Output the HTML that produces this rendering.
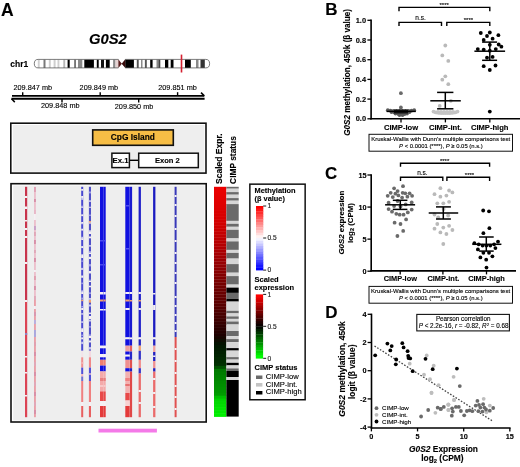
<!DOCTYPE html>
<html><head><meta charset="utf-8"><title>G0S2 figure</title>
<style>
html,body{margin:0;padding:0;background:#fff;}
svg{display:block;}
text{font-family:'Liberation Sans', Arial, sans-serif;stroke:currentColor;stroke-width:0.12px;}
svg{color:#000;}
</style></head>
<body>
<svg width="520" height="467" viewBox="0 0 520 467">
<rect width="520" height="467" fill="#fff"/>
<text x="1.00" y="15.60" font-size="17.5" font-weight="bold" font-style="normal" text-anchor="start" fill="#000" >A</text>
<text x="89.00" y="44.10" font-size="14.8" font-weight="bold" font-style="italic" text-anchor="start" fill="#000" >G0S2</text>
<text x="10.30" y="66.80" font-size="8.5" font-weight="bold" font-style="normal" text-anchor="start" fill="#000" >chr1</text>
<defs><clipPath id="chrclip"><rect x="34.3" y="59.4" width="175.3" height="8.5" rx="3.8"/></clipPath></defs>
<g clip-path="url(#chrclip)">
<rect x="34.30" y="59.40" width="175.30" height="8.50" fill="#ffffff" stroke="none" stroke-width="0" />
<rect x="37.80" y="59.40" width="1.90" height="8.50" fill="#d0d0d0" stroke="none" stroke-width="0" />
<rect x="43.50" y="59.40" width="2.00" height="8.50" fill="#7a7a7a" stroke="none" stroke-width="0" />
<rect x="48.80" y="59.40" width="2.00" height="8.50" fill="#cfcfcf" stroke="none" stroke-width="0" />
<rect x="53.60" y="59.40" width="2.00" height="8.50" fill="#cfcfcf" stroke="none" stroke-width="0" />
<rect x="57.50" y="59.40" width="1.90" height="8.50" fill="#cfcfcf" stroke="none" stroke-width="0" />
<rect x="63.30" y="59.40" width="1.90" height="8.50" fill="#b8b8b8" stroke="none" stroke-width="0" />
<rect x="67.60" y="59.40" width="2.10" height="8.50" fill="#000" stroke="none" stroke-width="0" />
<rect x="74.30" y="59.40" width="1.50" height="8.50" fill="#555" stroke="none" stroke-width="0" />
<rect x="78.00" y="59.40" width="4.30" height="8.50" fill="#8a8a8a" stroke="none" stroke-width="0" />
<rect x="84.30" y="59.40" width="9.60" height="8.50" fill="#000" stroke="none" stroke-width="0" />
<rect x="96.80" y="59.40" width="1.90" height="8.50" fill="#000" stroke="none" stroke-width="0" />
<rect x="101.00" y="59.40" width="3.00" height="8.50" fill="#111" stroke="none" stroke-width="0" />
<rect x="105.90" y="59.40" width="3.80" height="8.50" fill="#000" stroke="none" stroke-width="0" />
<rect x="113.10" y="59.40" width="2.40" height="8.50" fill="#8a8a8a" stroke="none" stroke-width="0" />
<rect x="115.50" y="59.40" width="2.90" height="8.50" fill="#e6d4d4" stroke="none" stroke-width="0" />
<rect x="125.20" y="59.40" width="8.70" height="8.50" fill="#000" stroke="none" stroke-width="0" />
<rect x="136.80" y="59.40" width="1.90" height="8.50" fill="#555" stroke="none" stroke-width="0" />
<rect x="141.00" y="59.40" width="1.50" height="8.50" fill="#8a8a8a" stroke="none" stroke-width="0" />
<rect x="144.90" y="59.40" width="1.90" height="8.50" fill="#555" stroke="none" stroke-width="0" />
<rect x="150.20" y="59.40" width="2.40" height="8.50" fill="#000" stroke="none" stroke-width="0" />
<rect x="156.50" y="59.40" width="1.90" height="8.50" fill="#8a8a8a" stroke="none" stroke-width="0" />
<rect x="158.40" y="59.40" width="1.90" height="8.50" fill="#444" stroke="none" stroke-width="0" />
<rect x="165.00" y="59.40" width="3.30" height="8.50" fill="#000" stroke="none" stroke-width="0" />
<rect x="170.70" y="59.40" width="2.80" height="8.50" fill="#000" stroke="none" stroke-width="0" />
<rect x="185.00" y="59.40" width="5.80" height="8.50" fill="#000" stroke="none" stroke-width="0" />
<rect x="196.00" y="59.40" width="2.50" height="8.50" fill="#8a8a8a" stroke="none" stroke-width="0" />
<rect x="200.50" y="59.40" width="4.30" height="8.50" fill="#333" stroke="none" stroke-width="0" />
</g>
<path d="M38.1,59.4 H118.4 L121.8,63.65 L125.2,59.4 H205.8 A3.8,4.25 0 0 1 205.8,67.9 H125.2 L121.8,63.65 L118.4,67.9 H38.1 A3.8,4.25 0 0 1 38.1,59.4 Z" fill="none" stroke="#444" stroke-width="0.7"/>
<path d="M118.4,59.4 L121.8,63.65 L125.2,59.4 Z" fill="#fff"/>
<path d="M118.4,67.9 L121.8,63.65 L125.2,67.9 Z" fill="#fff"/>
<path d="M118.4,59.6 L121.8,63.65 L118.4,67.7 Z" fill="#5a1e1e"/>
<path d="M125.2,59.6 L121.8,63.65 L125.2,67.7 Z" fill="#3a0a0a"/>
<line x1="181.50" y1="54.60" x2="181.50" y2="72.50" stroke="#d42030" stroke-width="1.6" />
<line x1="12.00" y1="95.85" x2="204.30" y2="95.85" stroke="#000" stroke-width="1.8" />
<line x1="204.30" y1="95.85" x2="201.00" y2="92.60" stroke="#000" stroke-width="1.5" />
<line x1="11.50" y1="98.75" x2="204.60" y2="98.75" stroke="#000" stroke-width="1.8" />
<line x1="11.50" y1="98.75" x2="14.80" y2="102.10" stroke="#000" stroke-width="1.5" />
<line x1="22.70" y1="92.20" x2="22.70" y2="95.90" stroke="#000" stroke-width="1.4" />
<line x1="100.20" y1="92.20" x2="100.20" y2="95.90" stroke="#000" stroke-width="1.4" />
<line x1="177.60" y1="92.20" x2="177.60" y2="95.90" stroke="#000" stroke-width="1.4" />
<line x1="62.00" y1="98.80" x2="62.00" y2="102.40" stroke="#000" stroke-width="1.4" />
<line x1="138.70" y1="98.80" x2="138.70" y2="102.40" stroke="#000" stroke-width="1.4" />
<text x="13.50" y="90.00" font-size="7.3" font-weight="normal" font-style="normal" text-anchor="start" fill="#000" >209.847 mb</text>
<text x="79.60" y="90.00" font-size="7.3" font-weight="normal" font-style="normal" text-anchor="start" fill="#000" >209.849 mb</text>
<text x="196.80" y="89.60" font-size="7.3" font-weight="normal" font-style="normal" text-anchor="end" fill="#000" >209.851 mb</text>
<text x="41.00" y="108.40" font-size="7.3" font-weight="normal" font-style="normal" text-anchor="start" fill="#000" >209.848 mb</text>
<text x="114.80" y="109.20" font-size="7.3" font-weight="normal" font-style="normal" text-anchor="start" fill="#000" >209.850 mb</text>
<rect x="10.80" y="123.20" width="195.20" height="49.90" fill="#fff" stroke="#111" stroke-width="1.6" />
<rect x="12.90" y="125.00" width="191.50" height="46.70" fill="#eeeeee" stroke="none" stroke-width="0" />
<rect x="92.70" y="129.90" width="80.60" height="15.40" fill="#f6bd45" stroke="#111" stroke-width="1.6" />
<text x="132.90" y="140.10" font-size="8.4" font-weight="bold" font-style="normal" text-anchor="middle" fill="#000" >CpG Island</text>
<line x1="129.50" y1="160.30" x2="138.50" y2="160.30" stroke="#000" stroke-width="1.4" />
<rect x="111.90" y="153.20" width="17.50" height="14.40" fill="#fff" stroke="#111" stroke-width="1.5" />
<rect x="138.70" y="153.20" width="59.60" height="14.40" fill="#fff" stroke="#111" stroke-width="1.5" />
<text x="120.60" y="163.10" font-size="7.8" font-weight="bold" font-style="normal" text-anchor="middle" fill="#000" >Ex.1</text>
<text x="167.40" y="163.10" font-size="7.6" font-weight="bold" font-style="normal" text-anchor="middle" fill="#000" >Exon 2</text>
<rect x="11.00" y="183.70" width="195.20" height="238.30" fill="#fff" stroke="#111" stroke-width="1.6" />
<rect x="13.20" y="185.50" width="191.20" height="234.90" fill="#eeeeee" stroke="none" stroke-width="0" />
<rect x="25.00" y="186.80" width="2.20" height="113.20" fill="#c8344c" stroke="none" stroke-width="0" />
<rect x="25.00" y="300.00" width="2.20" height="117.20" fill="#dc4454" stroke="none" stroke-width="0" />
<rect x="25.00" y="196.00" width="2.20" height="2.00" fill="#f6f0f4" stroke="none" stroke-width="0" />
<rect x="25.00" y="206.50" width="2.20" height="2.50" fill="#f6f0f4" stroke="none" stroke-width="0" />
<rect x="25.00" y="220.00" width="2.20" height="1.50" fill="#f6f0f4" stroke="none" stroke-width="0" />
<rect x="25.00" y="228.00" width="2.20" height="2.00" fill="#f6f0f4" stroke="none" stroke-width="0" />
<rect x="25.00" y="236.00" width="2.20" height="2.00" fill="#f6f0f4" stroke="none" stroke-width="0" />
<rect x="25.00" y="262.00" width="2.20" height="2.00" fill="#f6f0f4" stroke="none" stroke-width="0" />
<rect x="25.00" y="300.00" width="2.20" height="2.00" fill="#f6f0f4" stroke="none" stroke-width="0" />
<rect x="25.00" y="333.00" width="2.20" height="2.00" fill="#9080c0" stroke="none" stroke-width="0" />
<rect x="25.00" y="356.00" width="2.20" height="1.50" fill="#f6f0f4" stroke="none" stroke-width="0" />
<rect x="25.00" y="372.00" width="2.20" height="1.50" fill="#f6f0f4" stroke="none" stroke-width="0" />
<rect x="25.00" y="395.00" width="2.20" height="1.50" fill="#f6f0f4" stroke="none" stroke-width="0" />
<rect x="34.00" y="186.80" width="1.90" height="113.20" fill="#ecc0cc" stroke="none" stroke-width="0" />
<rect x="34.00" y="300.00" width="1.90" height="117.20" fill="#eaa0a8" stroke="none" stroke-width="0" />
<rect x="34.00" y="187.00" width="1.90" height="5.00" fill="#e0a0b4" stroke="none" stroke-width="0" />
<rect x="34.00" y="199.00" width="1.90" height="3.00" fill="#d890a8" stroke="none" stroke-width="0" />
<rect x="34.00" y="210.00" width="1.90" height="4.00" fill="#e8b8c8" stroke="none" stroke-width="0" />
<rect x="34.00" y="214.00" width="1.90" height="6.00" fill="#f6f0f4" stroke="none" stroke-width="0" />
<rect x="34.00" y="226.00" width="1.90" height="4.00" fill="#c8a0c8" stroke="none" stroke-width="0" />
<rect x="34.00" y="232.00" width="1.90" height="4.00" fill="#e0a8b8" stroke="none" stroke-width="0" />
<rect x="34.00" y="240.00" width="1.90" height="4.00" fill="#d890a8" stroke="none" stroke-width="0" />
<rect x="34.00" y="250.00" width="1.90" height="3.00" fill="#e0a8b8" stroke="none" stroke-width="0" />
<rect x="34.00" y="258.00" width="1.90" height="4.00" fill="#d890a8" stroke="none" stroke-width="0" />
<rect x="34.00" y="270.00" width="1.90" height="2.00" fill="#f6f0f4" stroke="none" stroke-width="0" />
<rect x="34.00" y="276.00" width="1.90" height="4.00" fill="#e0a0b0" stroke="none" stroke-width="0" />
<rect x="34.00" y="286.00" width="1.90" height="4.00" fill="#d890a8" stroke="none" stroke-width="0" />
<rect x="34.00" y="296.00" width="1.90" height="4.00" fill="#e0a8b8" stroke="none" stroke-width="0" />
<rect x="34.00" y="306.00" width="1.90" height="3.00" fill="#f6f0f4" stroke="none" stroke-width="0" />
<rect x="34.00" y="312.00" width="1.90" height="4.00" fill="#d898b0" stroke="none" stroke-width="0" />
<rect x="34.00" y="320.00" width="1.90" height="4.00" fill="#b8b0e0" stroke="none" stroke-width="0" />
<rect x="34.00" y="330.00" width="1.90" height="7.00" fill="#a8a8e0" stroke="none" stroke-width="0" />
<rect x="34.00" y="342.00" width="1.90" height="4.00" fill="#e0a0b0" stroke="none" stroke-width="0" />
<rect x="34.00" y="352.00" width="1.90" height="4.00" fill="#d890a8" stroke="none" stroke-width="0" />
<rect x="34.00" y="362.00" width="1.90" height="4.00" fill="#e0a8b8" stroke="none" stroke-width="0" />
<rect x="34.00" y="372.00" width="1.90" height="4.00" fill="#d890a8" stroke="none" stroke-width="0" />
<rect x="34.00" y="382.00" width="1.90" height="4.00" fill="#e0a8b8" stroke="none" stroke-width="0" />
<rect x="34.00" y="392.00" width="1.90" height="4.00" fill="#d890a8" stroke="none" stroke-width="0" />
<rect x="34.00" y="402.00" width="1.90" height="4.00" fill="#e0a8b8" stroke="none" stroke-width="0" />
<rect x="34.00" y="410.00" width="1.90" height="4.00" fill="#d890a8" stroke="none" stroke-width="0" />
<rect x="81.20" y="186.80" width="2.00" height="164.00" fill="#4848d0" stroke="none" stroke-width="0" />
<rect x="81.20" y="350.80" width="2.00" height="6.50" fill="#f2e4ea" stroke="none" stroke-width="0" />
<rect x="81.20" y="357.30" width="2.00" height="10.30" fill="#f09090" stroke="none" stroke-width="0" />
<rect x="81.20" y="367.60" width="2.00" height="6.40" fill="#5050d8" stroke="none" stroke-width="0" />
<rect x="81.20" y="374.00" width="2.00" height="2.50" fill="#f4b8c0" stroke="none" stroke-width="0" />
<rect x="81.20" y="376.50" width="2.00" height="4.50" fill="#7070d0" stroke="none" stroke-width="0" />
<rect x="81.20" y="381.00" width="2.00" height="21.00" fill="#f08080" stroke="none" stroke-width="0" />
<rect x="81.20" y="402.00" width="2.00" height="4.00" fill="#f6f0f4" stroke="none" stroke-width="0" />
<rect x="81.20" y="406.00" width="2.00" height="11.20" fill="#e86060" stroke="none" stroke-width="0" />
<rect x="81.20" y="196.00" width="2.00" height="2.00" fill="#f6f0f4" stroke="none" stroke-width="0" />
<rect x="81.20" y="206.00" width="2.00" height="2.00" fill="#f6f0f4" stroke="none" stroke-width="0" />
<rect x="81.20" y="222.00" width="2.00" height="2.00" fill="#f6f0f4" stroke="none" stroke-width="0" />
<rect x="81.20" y="238.00" width="2.00" height="2.00" fill="#f6f0f4" stroke="none" stroke-width="0" />
<rect x="81.20" y="256.00" width="2.00" height="2.00" fill="#f6f0f4" stroke="none" stroke-width="0" />
<rect x="81.20" y="268.00" width="2.00" height="2.00" fill="#f6f0f4" stroke="none" stroke-width="0" />
<rect x="81.20" y="292.00" width="2.00" height="2.00" fill="#f6f0f4" stroke="none" stroke-width="0" />
<rect x="81.20" y="299.70" width="2.00" height="1.50" fill="#f0a070" stroke="none" stroke-width="0" />
<rect x="81.20" y="308.00" width="2.00" height="2.00" fill="#f6f0f4" stroke="none" stroke-width="0" />
<rect x="81.20" y="330.00" width="2.00" height="2.00" fill="#f6f0f4" stroke="none" stroke-width="0" />
<rect x="81.20" y="337.40" width="2.00" height="1.90" fill="#f6f0f4" stroke="none" stroke-width="0" />
<rect x="81.20" y="362.00" width="2.00" height="2.00" fill="#f4b0b0" stroke="none" stroke-width="0" />
<rect x="81.20" y="189.00" width="2.00" height="1.74" fill="#f0eef4" stroke="none" stroke-width="0" />
<rect x="81.20" y="197.74" width="2.00" height="2.14" fill="#c8c8f0" stroke="none" stroke-width="0" />
<rect x="81.20" y="205.66" width="2.00" height="1.90" fill="#a0a0e8" stroke="none" stroke-width="0" />
<rect x="81.20" y="214.38" width="2.00" height="1.77" fill="#f0eef4" stroke="none" stroke-width="0" />
<rect x="81.20" y="222.92" width="2.00" height="1.31" fill="#c8c8f0" stroke="none" stroke-width="0" />
<rect x="81.20" y="228.73" width="2.00" height="1.85" fill="#f0eef4" stroke="none" stroke-width="0" />
<rect x="81.20" y="236.80" width="2.00" height="1.91" fill="#c8c8f0" stroke="none" stroke-width="0" />
<rect x="81.20" y="246.09" width="2.00" height="1.98" fill="#f0eef4" stroke="none" stroke-width="0" />
<rect x="81.20" y="254.35" width="2.00" height="1.95" fill="#f0eef4" stroke="none" stroke-width="0" />
<rect x="81.20" y="260.52" width="2.00" height="1.24" fill="#a0a0e8" stroke="none" stroke-width="0" />
<rect x="81.20" y="267.86" width="2.00" height="2.13" fill="#c8c8f0" stroke="none" stroke-width="0" />
<rect x="81.20" y="275.53" width="2.00" height="2.21" fill="#f0eef4" stroke="none" stroke-width="0" />
<rect x="81.20" y="282.56" width="2.00" height="1.55" fill="#a0a0e8" stroke="none" stroke-width="0" />
<rect x="81.20" y="290.44" width="2.00" height="1.75" fill="#c8c8f0" stroke="none" stroke-width="0" />
<rect x="81.20" y="297.61" width="2.00" height="1.86" fill="#a0a0e8" stroke="none" stroke-width="0" />
<rect x="81.20" y="305.95" width="2.00" height="1.58" fill="#a0a0e8" stroke="none" stroke-width="0" />
<rect x="81.20" y="313.32" width="2.00" height="1.24" fill="#f0eef4" stroke="none" stroke-width="0" />
<rect x="81.20" y="321.24" width="2.00" height="1.68" fill="#c8c8f0" stroke="none" stroke-width="0" />
<rect x="81.20" y="328.27" width="2.00" height="2.35" fill="#f0eef4" stroke="none" stroke-width="0" />
<rect x="81.20" y="334.62" width="2.00" height="1.45" fill="#a0a0e8" stroke="none" stroke-width="0" />
<rect x="81.20" y="341.72" width="2.00" height="2.38" fill="#c8c8f0" stroke="none" stroke-width="0" />
<rect x="88.90" y="186.80" width="2.10" height="164.00" fill="#5050c8" stroke="none" stroke-width="0" />
<rect x="88.90" y="350.80" width="2.10" height="6.50" fill="#f4d8e0" stroke="none" stroke-width="0" />
<rect x="88.90" y="357.30" width="2.10" height="10.30" fill="#f08888" stroke="none" stroke-width="0" />
<rect x="88.90" y="367.60" width="2.10" height="13.40" fill="#5050d8" stroke="none" stroke-width="0" />
<rect x="88.90" y="381.00" width="2.10" height="21.00" fill="#f08080" stroke="none" stroke-width="0" />
<rect x="88.90" y="402.00" width="2.10" height="4.00" fill="#f6f0f4" stroke="none" stroke-width="0" />
<rect x="88.90" y="406.00" width="2.10" height="11.20" fill="#e86060" stroke="none" stroke-width="0" />
<rect x="88.90" y="200.00" width="2.10" height="2.00" fill="#f6f0f4" stroke="none" stroke-width="0" />
<rect x="88.90" y="221.00" width="2.10" height="2.50" fill="#f0a070" stroke="none" stroke-width="0" />
<rect x="88.90" y="232.00" width="2.10" height="2.00" fill="#f6f0f4" stroke="none" stroke-width="0" />
<rect x="88.90" y="252.00" width="2.10" height="2.00" fill="#f6f0f4" stroke="none" stroke-width="0" />
<rect x="88.90" y="280.00" width="2.10" height="2.00" fill="#f6f0f4" stroke="none" stroke-width="0" />
<rect x="88.90" y="300.00" width="2.10" height="2.70" fill="#f0a070" stroke="none" stroke-width="0" />
<rect x="88.90" y="316.00" width="2.10" height="3.00" fill="#f6f0f4" stroke="none" stroke-width="0" />
<rect x="88.90" y="336.00" width="2.10" height="2.00" fill="#f6f0f4" stroke="none" stroke-width="0" />
<rect x="88.90" y="373.00" width="2.10" height="2.00" fill="#c0a0d0" stroke="none" stroke-width="0" />
<rect x="88.90" y="191.50" width="2.10" height="1.88" fill="#a0a0e8" stroke="none" stroke-width="0" />
<rect x="88.90" y="200.10" width="2.10" height="1.52" fill="#a0a0e8" stroke="none" stroke-width="0" />
<rect x="88.90" y="206.72" width="2.10" height="1.22" fill="#c8c8f0" stroke="none" stroke-width="0" />
<rect x="88.90" y="214.59" width="2.10" height="1.34" fill="#a0a0e8" stroke="none" stroke-width="0" />
<rect x="88.90" y="222.40" width="2.10" height="1.21" fill="#c8c8f0" stroke="none" stroke-width="0" />
<rect x="88.90" y="230.41" width="2.10" height="1.41" fill="#f0eef4" stroke="none" stroke-width="0" />
<rect x="88.90" y="236.48" width="2.10" height="1.81" fill="#f0eef4" stroke="none" stroke-width="0" />
<rect x="88.90" y="244.98" width="2.10" height="1.70" fill="#c8c8f0" stroke="none" stroke-width="0" />
<rect x="88.90" y="251.09" width="2.10" height="1.70" fill="#a0a0e8" stroke="none" stroke-width="0" />
<rect x="88.90" y="256.80" width="2.10" height="2.24" fill="#f0eef4" stroke="none" stroke-width="0" />
<rect x="88.90" y="264.10" width="2.10" height="2.26" fill="#a0a0e8" stroke="none" stroke-width="0" />
<rect x="88.90" y="271.02" width="2.10" height="2.40" fill="#f0eef4" stroke="none" stroke-width="0" />
<rect x="88.90" y="279.66" width="2.10" height="1.32" fill="#a0a0e8" stroke="none" stroke-width="0" />
<rect x="88.90" y="285.73" width="2.10" height="1.51" fill="#f0eef4" stroke="none" stroke-width="0" />
<rect x="88.90" y="292.39" width="2.10" height="1.56" fill="#a0a0e8" stroke="none" stroke-width="0" />
<rect x="88.90" y="298.21" width="2.10" height="1.45" fill="#f0eef4" stroke="none" stroke-width="0" />
<rect x="88.90" y="304.51" width="2.10" height="1.92" fill="#c8c8f0" stroke="none" stroke-width="0" />
<rect x="88.90" y="312.61" width="2.10" height="1.35" fill="#f0eef4" stroke="none" stroke-width="0" />
<rect x="88.90" y="319.65" width="2.10" height="1.89" fill="#c8c8f0" stroke="none" stroke-width="0" />
<rect x="88.90" y="326.18" width="2.10" height="1.38" fill="#a0a0e8" stroke="none" stroke-width="0" />
<rect x="88.90" y="334.43" width="2.10" height="1.50" fill="#a0a0e8" stroke="none" stroke-width="0" />
<rect x="88.90" y="340.48" width="2.10" height="1.95" fill="#f0eef4" stroke="none" stroke-width="0" />
<rect x="88.90" y="347.12" width="2.10" height="2.34" fill="#c8c8f0" stroke="none" stroke-width="0" />
<rect x="100.00" y="186.80" width="3.60" height="158.90" fill="#1010e0" stroke="none" stroke-width="0" />
<rect x="100.00" y="345.70" width="3.60" height="2.60" fill="#f6f0f4" stroke="none" stroke-width="0" />
<rect x="100.00" y="348.30" width="3.60" height="5.70" fill="#1010e0" stroke="none" stroke-width="0" />
<rect x="100.00" y="354.00" width="3.60" height="3.30" fill="#f6f0f4" stroke="none" stroke-width="0" />
<rect x="100.00" y="357.30" width="3.60" height="2.50" fill="#1010e0" stroke="none" stroke-width="0" />
<rect x="100.00" y="359.80" width="3.60" height="5.80" fill="#f08070" stroke="none" stroke-width="0" />
<rect x="100.00" y="365.60" width="3.60" height="5.80" fill="#1010e0" stroke="none" stroke-width="0" />
<rect x="100.00" y="371.40" width="3.60" height="20.00" fill="#f4aaaa" stroke="none" stroke-width="0" />
<rect x="100.00" y="391.40" width="3.60" height="9.60" fill="#e84848" stroke="none" stroke-width="0" />
<rect x="100.00" y="401.00" width="3.60" height="5.00" fill="#f6f0f4" stroke="none" stroke-width="0" />
<rect x="100.00" y="406.00" width="3.60" height="11.20" fill="#e43a3a" stroke="none" stroke-width="0" />
<rect x="100.00" y="292.00" width="3.60" height="2.50" fill="#f6f0f4" stroke="none" stroke-width="0" />
<rect x="100.00" y="299.50" width="3.60" height="2.00" fill="#f0a070" stroke="none" stroke-width="0" />
<rect x="100.00" y="309.00" width="3.60" height="1.50" fill="#f6f0f4" stroke="none" stroke-width="0" />
<rect x="100.00" y="240.00" width="3.60" height="1.50" fill="#4848f0" stroke="none" stroke-width="0" />
<rect x="100.00" y="264.00" width="3.60" height="1.50" fill="#4848f0" stroke="none" stroke-width="0" />
<rect x="100.00" y="378.00" width="3.60" height="3.00" fill="#e88080" stroke="none" stroke-width="0" />
<rect x="100.00" y="385.00" width="3.60" height="2.00" fill="#f8c8c8" stroke="none" stroke-width="0" />
<rect x="103.60" y="186.80" width="2.10" height="158.90" fill="#1010e0" stroke="none" stroke-width="0" />
<rect x="103.60" y="345.70" width="2.10" height="2.60" fill="#f6f0f4" stroke="none" stroke-width="0" />
<rect x="103.60" y="348.30" width="2.10" height="5.70" fill="#1010e0" stroke="none" stroke-width="0" />
<rect x="103.60" y="354.00" width="2.10" height="3.30" fill="#f6f0f4" stroke="none" stroke-width="0" />
<rect x="103.60" y="357.30" width="2.10" height="2.50" fill="#1010e0" stroke="none" stroke-width="0" />
<rect x="103.60" y="359.80" width="2.10" height="5.80" fill="#f08070" stroke="none" stroke-width="0" />
<rect x="103.60" y="365.60" width="2.10" height="5.80" fill="#1010e0" stroke="none" stroke-width="0" />
<rect x="103.60" y="371.40" width="2.10" height="20.00" fill="#f4aaaa" stroke="none" stroke-width="0" />
<rect x="103.60" y="391.40" width="2.10" height="9.60" fill="#e84848" stroke="none" stroke-width="0" />
<rect x="103.60" y="401.00" width="2.10" height="5.00" fill="#f6f0f4" stroke="none" stroke-width="0" />
<rect x="103.60" y="406.00" width="2.10" height="11.20" fill="#e43a3a" stroke="none" stroke-width="0" />
<rect x="103.60" y="292.00" width="2.10" height="2.50" fill="#f6f0f4" stroke="none" stroke-width="0" />
<rect x="103.60" y="299.50" width="2.10" height="2.00" fill="#f0a070" stroke="none" stroke-width="0" />
<rect x="103.60" y="309.00" width="2.10" height="1.50" fill="#f6f0f4" stroke="none" stroke-width="0" />
<rect x="103.60" y="240.00" width="2.10" height="1.50" fill="#4848f0" stroke="none" stroke-width="0" />
<rect x="103.60" y="264.00" width="2.10" height="1.50" fill="#4848f0" stroke="none" stroke-width="0" />
<rect x="103.60" y="378.00" width="2.10" height="3.00" fill="#e88080" stroke="none" stroke-width="0" />
<rect x="103.60" y="385.00" width="2.10" height="2.00" fill="#f8c8c8" stroke="none" stroke-width="0" />
<rect x="125.30" y="186.80" width="4.40" height="150.60" fill="#1010e0" stroke="none" stroke-width="0" />
<rect x="125.30" y="337.40" width="4.40" height="1.90" fill="#f6f0f4" stroke="none" stroke-width="0" />
<rect x="125.30" y="339.30" width="4.40" height="6.40" fill="#1010e0" stroke="none" stroke-width="0" />
<rect x="125.30" y="345.70" width="4.40" height="5.80" fill="#f0a0a0" stroke="none" stroke-width="0" />
<rect x="125.30" y="351.50" width="4.40" height="3.20" fill="#1010e0" stroke="none" stroke-width="0" />
<rect x="125.30" y="354.70" width="4.40" height="1.90" fill="#f6f0f4" stroke="none" stroke-width="0" />
<rect x="125.30" y="356.60" width="4.40" height="3.20" fill="#1010e0" stroke="none" stroke-width="0" />
<rect x="125.30" y="359.80" width="4.40" height="8.40" fill="#f09090" stroke="none" stroke-width="0" />
<rect x="125.30" y="368.20" width="4.40" height="3.40" fill="#1010e0" stroke="none" stroke-width="0" />
<rect x="125.30" y="371.60" width="4.40" height="21.40" fill="#f4b0b0" stroke="none" stroke-width="0" />
<rect x="125.30" y="393.00" width="4.40" height="7.50" fill="#e84848" stroke="none" stroke-width="0" />
<rect x="125.30" y="400.50" width="4.40" height="5.50" fill="#f8d0d0" stroke="none" stroke-width="0" />
<rect x="125.30" y="406.00" width="4.40" height="11.20" fill="#e43a3a" stroke="none" stroke-width="0" />
<rect x="125.30" y="292.00" width="4.40" height="2.00" fill="#f6f0f4" stroke="none" stroke-width="0" />
<rect x="125.30" y="299.50" width="4.40" height="2.00" fill="#f0a070" stroke="none" stroke-width="0" />
<rect x="125.30" y="308.00" width="4.40" height="2.00" fill="#f6f0f4" stroke="none" stroke-width="0" />
<rect x="125.30" y="205.00" width="4.40" height="1.50" fill="#5050f0" stroke="none" stroke-width="0" />
<rect x="125.30" y="248.00" width="4.40" height="1.50" fill="#5050f0" stroke="none" stroke-width="0" />
<rect x="125.30" y="378.00" width="4.40" height="3.00" fill="#f08080" stroke="none" stroke-width="0" />
<rect x="125.30" y="384.00" width="4.40" height="2.00" fill="#e87070" stroke="none" stroke-width="0" />
<rect x="129.90" y="186.80" width="2.20" height="158.90" fill="#1818d0" stroke="none" stroke-width="0" />
<rect x="129.90" y="345.70" width="2.20" height="5.80" fill="#e86060" stroke="none" stroke-width="0" />
<rect x="129.90" y="351.50" width="2.20" height="8.30" fill="#2828c8" stroke="none" stroke-width="0" />
<rect x="129.90" y="359.80" width="2.20" height="8.40" fill="#e05050" stroke="none" stroke-width="0" />
<rect x="129.90" y="368.20" width="2.20" height="3.40" fill="#2020c0" stroke="none" stroke-width="0" />
<rect x="129.90" y="371.60" width="2.20" height="45.60" fill="#e04848" stroke="none" stroke-width="0" />
<rect x="129.90" y="300.00" width="2.20" height="1.50" fill="#f0a070" stroke="none" stroke-width="0" />
<rect x="129.90" y="292.00" width="2.20" height="2.00" fill="#f6f0f4" stroke="none" stroke-width="0" />
<rect x="129.90" y="337.40" width="2.20" height="1.90" fill="#f6f0f4" stroke="none" stroke-width="0" />
<rect x="138.60" y="186.80" width="2.30" height="150.60" fill="#1c1cc8" stroke="none" stroke-width="0" />
<rect x="138.60" y="337.40" width="2.30" height="1.90" fill="#f6f0f4" stroke="none" stroke-width="0" />
<rect x="138.60" y="339.30" width="2.30" height="6.40" fill="#2020c0" stroke="none" stroke-width="0" />
<rect x="138.60" y="345.70" width="2.30" height="5.10" fill="#f0a070" stroke="none" stroke-width="0" />
<rect x="138.60" y="350.80" width="2.30" height="9.00" fill="#3030c8" stroke="none" stroke-width="0" />
<rect x="138.60" y="359.80" width="2.30" height="8.40" fill="#f08888" stroke="none" stroke-width="0" />
<rect x="138.60" y="368.20" width="2.30" height="5.30" fill="#3030c8" stroke="none" stroke-width="0" />
<rect x="138.60" y="373.50" width="2.30" height="43.70" fill="#ea6a6a" stroke="none" stroke-width="0" />
<rect x="138.60" y="300.00" width="2.30" height="1.50" fill="#f0a070" stroke="none" stroke-width="0" />
<rect x="138.60" y="308.00" width="2.30" height="2.00" fill="#f6f0f4" stroke="none" stroke-width="0" />
<rect x="138.60" y="292.00" width="2.30" height="2.00" fill="#f6f0f4" stroke="none" stroke-width="0" />
<rect x="138.60" y="390.00" width="2.30" height="2.00" fill="#f6f0f4" stroke="none" stroke-width="0" />
<rect x="138.60" y="402.00" width="2.30" height="2.00" fill="#f6f0f4" stroke="none" stroke-width="0" />
<rect x="153.10" y="186.80" width="2.30" height="150.60" fill="#1a1ac0" stroke="none" stroke-width="0" />
<rect x="153.10" y="337.40" width="2.30" height="1.90" fill="#f6f0f4" stroke="none" stroke-width="0" />
<rect x="153.10" y="339.30" width="2.30" height="6.40" fill="#2020c0" stroke="none" stroke-width="0" />
<rect x="153.10" y="345.70" width="2.30" height="6.30" fill="#f0a0a0" stroke="none" stroke-width="0" />
<rect x="153.10" y="352.00" width="2.30" height="9.00" fill="#2020c0" stroke="none" stroke-width="0" />
<rect x="153.10" y="361.00" width="2.30" height="7.20" fill="#f09090" stroke="none" stroke-width="0" />
<rect x="153.10" y="368.20" width="2.30" height="3.40" fill="#2020c0" stroke="none" stroke-width="0" />
<rect x="153.10" y="371.60" width="2.30" height="45.60" fill="#ea6a6a" stroke="none" stroke-width="0" />
<rect x="153.10" y="293.00" width="2.30" height="1.50" fill="#f6f0f4" stroke="none" stroke-width="0" />
<rect x="153.10" y="305.00" width="2.30" height="5.00" fill="#f6f0f4" stroke="none" stroke-width="0" />
<rect x="153.10" y="378.00" width="2.30" height="2.00" fill="#f6f0f4" stroke="none" stroke-width="0" />
<rect x="153.10" y="392.00" width="2.30" height="2.00" fill="#f6f0f4" stroke="none" stroke-width="0" />
<rect x="153.10" y="406.00" width="2.30" height="2.00" fill="#f6f0f4" stroke="none" stroke-width="0" />
<rect x="153.10" y="355.50" width="2.30" height="1.50" fill="#f6f0f4" stroke="none" stroke-width="0" />
<rect x="174.60" y="186.80" width="2.00" height="150.20" fill="#3838b8" stroke="none" stroke-width="0" />
<rect x="174.60" y="337.00" width="2.00" height="80.20" fill="#e05050" stroke="none" stroke-width="0" />
<rect x="174.60" y="195.00" width="2.00" height="2.00" fill="#f6f0f4" stroke="none" stroke-width="0" />
<rect x="174.60" y="204.00" width="2.00" height="2.00" fill="#f6f0f4" stroke="none" stroke-width="0" />
<rect x="174.60" y="215.00" width="2.00" height="2.00" fill="#f6f0f4" stroke="none" stroke-width="0" />
<rect x="174.60" y="228.00" width="2.00" height="2.00" fill="#f6f0f4" stroke="none" stroke-width="0" />
<rect x="174.60" y="240.00" width="2.00" height="2.00" fill="#f6f0f4" stroke="none" stroke-width="0" />
<rect x="174.60" y="252.00" width="2.00" height="2.00" fill="#f6f0f4" stroke="none" stroke-width="0" />
<rect x="174.60" y="262.00" width="2.00" height="2.00" fill="#f6f0f4" stroke="none" stroke-width="0" />
<rect x="174.60" y="272.00" width="2.00" height="2.00" fill="#f6f0f4" stroke="none" stroke-width="0" />
<rect x="174.60" y="282.00" width="2.00" height="2.00" fill="#f6f0f4" stroke="none" stroke-width="0" />
<rect x="174.60" y="296.00" width="2.00" height="2.00" fill="#f6f0f4" stroke="none" stroke-width="0" />
<rect x="174.60" y="305.00" width="2.00" height="2.00" fill="#f6f0f4" stroke="none" stroke-width="0" />
<rect x="174.60" y="314.00" width="2.00" height="2.00" fill="#f6f0f4" stroke="none" stroke-width="0" />
<rect x="174.60" y="322.00" width="2.00" height="2.00" fill="#f6f0f4" stroke="none" stroke-width="0" />
<rect x="174.60" y="330.00" width="2.00" height="2.00" fill="#f6f0f4" stroke="none" stroke-width="0" />
<rect x="174.60" y="348.00" width="2.00" height="2.00" fill="#f6f0f4" stroke="none" stroke-width="0" />
<rect x="174.60" y="360.00" width="2.00" height="2.00" fill="#f6f0f4" stroke="none" stroke-width="0" />
<rect x="174.60" y="372.00" width="2.00" height="2.00" fill="#f6f0f4" stroke="none" stroke-width="0" />
<rect x="174.60" y="385.00" width="2.00" height="2.00" fill="#f6f0f4" stroke="none" stroke-width="0" />
<rect x="174.60" y="396.00" width="2.00" height="2.00" fill="#f6f0f4" stroke="none" stroke-width="0" />
<rect x="174.60" y="408.00" width="2.00" height="2.00" fill="#f6f0f4" stroke="none" stroke-width="0" />
<rect x="214.00" y="186.80" width="12.40" height="3.28" fill="rgb(235,0,0)" stroke="none" stroke-width="0" />
<rect x="214.00" y="189.78" width="12.40" height="3.28" fill="rgb(233,0,0)" stroke="none" stroke-width="0" />
<rect x="214.00" y="192.77" width="12.40" height="3.28" fill="rgb(231,0,0)" stroke="none" stroke-width="0" />
<rect x="214.00" y="195.75" width="12.40" height="3.28" fill="rgb(228,0,0)" stroke="none" stroke-width="0" />
<rect x="214.00" y="198.74" width="12.40" height="3.28" fill="rgb(226,0,0)" stroke="none" stroke-width="0" />
<rect x="214.00" y="201.72" width="12.40" height="3.28" fill="rgb(224,0,0)" stroke="none" stroke-width="0" />
<rect x="214.00" y="204.71" width="12.40" height="3.28" fill="rgb(222,0,0)" stroke="none" stroke-width="0" />
<rect x="214.00" y="207.69" width="12.40" height="3.28" fill="rgb(220,0,0)" stroke="none" stroke-width="0" />
<rect x="214.00" y="210.68" width="12.40" height="3.28" fill="rgb(218,0,0)" stroke="none" stroke-width="0" />
<rect x="214.00" y="213.66" width="12.40" height="3.28" fill="rgb(216,0,0)" stroke="none" stroke-width="0" />
<rect x="214.00" y="216.64" width="12.40" height="3.28" fill="rgb(214,0,0)" stroke="none" stroke-width="0" />
<rect x="214.00" y="219.63" width="12.40" height="3.28" fill="rgb(212,0,0)" stroke="none" stroke-width="0" />
<rect x="214.00" y="222.61" width="12.40" height="3.28" fill="rgb(210,0,0)" stroke="none" stroke-width="0" />
<rect x="214.00" y="225.60" width="12.40" height="3.28" fill="rgb(206,0,0)" stroke="none" stroke-width="0" />
<rect x="214.00" y="228.58" width="12.40" height="3.28" fill="rgb(202,0,0)" stroke="none" stroke-width="0" />
<rect x="214.00" y="231.57" width="12.40" height="3.28" fill="rgb(197,0,1)" stroke="none" stroke-width="0" />
<rect x="214.00" y="234.55" width="12.40" height="3.28" fill="rgb(193,0,1)" stroke="none" stroke-width="0" />
<rect x="214.00" y="237.54" width="12.40" height="3.28" fill="rgb(188,0,1)" stroke="none" stroke-width="0" />
<rect x="214.00" y="240.52" width="12.40" height="3.28" fill="rgb(184,0,2)" stroke="none" stroke-width="0" />
<rect x="214.00" y="243.50" width="12.40" height="3.28" fill="rgb(180,0,2)" stroke="none" stroke-width="0" />
<rect x="214.00" y="246.49" width="12.40" height="3.28" fill="rgb(175,0,3)" stroke="none" stroke-width="0" />
<rect x="214.00" y="249.47" width="12.40" height="3.28" fill="rgb(171,0,3)" stroke="none" stroke-width="0" />
<rect x="214.00" y="252.46" width="12.40" height="3.28" fill="rgb(166,0,3)" stroke="none" stroke-width="0" />
<rect x="214.00" y="255.44" width="12.40" height="3.28" fill="rgb(161,0,3)" stroke="none" stroke-width="0" />
<rect x="214.00" y="258.43" width="12.40" height="3.28" fill="rgb(156,0,3)" stroke="none" stroke-width="0" />
<rect x="214.00" y="261.41" width="12.40" height="3.28" fill="rgb(151,0,2)" stroke="none" stroke-width="0" />
<rect x="214.00" y="264.39" width="12.40" height="3.28" fill="rgb(146,0,2)" stroke="none" stroke-width="0" />
<rect x="214.00" y="267.38" width="12.40" height="3.28" fill="rgb(141,0,2)" stroke="none" stroke-width="0" />
<rect x="214.00" y="270.36" width="12.40" height="3.28" fill="rgb(136,0,1)" stroke="none" stroke-width="0" />
<rect x="214.00" y="273.35" width="12.40" height="3.28" fill="rgb(131,0,1)" stroke="none" stroke-width="0" />
<rect x="214.00" y="276.33" width="12.40" height="3.28" fill="rgb(126,0,0)" stroke="none" stroke-width="0" />
<rect x="214.00" y="279.32" width="12.40" height="3.28" fill="rgb(121,0,0)" stroke="none" stroke-width="0" />
<rect x="214.00" y="282.30" width="12.40" height="3.28" fill="rgb(117,0,0)" stroke="none" stroke-width="0" />
<rect x="214.00" y="285.29" width="12.40" height="3.28" fill="rgb(112,0,0)" stroke="none" stroke-width="0" />
<rect x="214.00" y="288.27" width="12.40" height="3.28" fill="rgb(108,0,0)" stroke="none" stroke-width="0" />
<rect x="214.00" y="291.25" width="12.40" height="3.28" fill="rgb(105,0,0)" stroke="none" stroke-width="0" />
<rect x="214.00" y="294.24" width="12.40" height="3.28" fill="rgb(101,0,0)" stroke="none" stroke-width="0" />
<rect x="214.00" y="297.22" width="12.40" height="3.28" fill="rgb(97,0,0)" stroke="none" stroke-width="0" />
<rect x="214.00" y="300.21" width="12.40" height="3.28" fill="rgb(93,0,0)" stroke="none" stroke-width="0" />
<rect x="214.00" y="303.19" width="12.40" height="3.28" fill="rgb(88,0,0)" stroke="none" stroke-width="0" />
<rect x="214.00" y="306.18" width="12.40" height="3.28" fill="rgb(83,0,0)" stroke="none" stroke-width="0" />
<rect x="214.00" y="309.16" width="12.40" height="3.28" fill="rgb(78,0,0)" stroke="none" stroke-width="0" />
<rect x="214.00" y="312.15" width="12.40" height="3.28" fill="rgb(73,0,0)" stroke="none" stroke-width="0" />
<rect x="214.00" y="315.13" width="12.40" height="3.28" fill="rgb(68,0,0)" stroke="none" stroke-width="0" />
<rect x="214.00" y="318.11" width="12.40" height="3.28" fill="rgb(62,0,0)" stroke="none" stroke-width="0" />
<rect x="214.00" y="321.10" width="12.40" height="3.28" fill="rgb(56,0,0)" stroke="none" stroke-width="0" />
<rect x="214.00" y="324.08" width="12.40" height="3.28" fill="rgb(49,0,0)" stroke="none" stroke-width="0" />
<rect x="214.00" y="327.07" width="12.40" height="3.28" fill="rgb(43,0,0)" stroke="none" stroke-width="0" />
<rect x="214.00" y="330.05" width="12.40" height="3.28" fill="rgb(37,0,0)" stroke="none" stroke-width="0" />
<rect x="214.00" y="333.04" width="12.40" height="3.28" fill="rgb(30,0,0)" stroke="none" stroke-width="0" />
<rect x="214.00" y="336.02" width="12.40" height="3.28" fill="rgb(22,5,0)" stroke="none" stroke-width="0" />
<rect x="214.00" y="339.01" width="12.40" height="3.28" fill="rgb(13,12,0)" stroke="none" stroke-width="0" />
<rect x="214.00" y="341.99" width="12.40" height="3.28" fill="rgb(4,18,0)" stroke="none" stroke-width="0" />
<rect x="214.00" y="344.97" width="12.40" height="3.28" fill="rgb(0,24,0)" stroke="none" stroke-width="0" />
<rect x="214.00" y="347.96" width="12.40" height="3.28" fill="rgb(0,28,0)" stroke="none" stroke-width="0" />
<rect x="214.00" y="350.94" width="12.40" height="3.28" fill="rgb(0,32,0)" stroke="none" stroke-width="0" />
<rect x="214.00" y="353.93" width="12.40" height="3.28" fill="rgb(0,36,0)" stroke="none" stroke-width="0" />
<rect x="214.00" y="356.91" width="12.40" height="3.28" fill="rgb(0,41,0)" stroke="none" stroke-width="0" />
<rect x="214.00" y="359.90" width="12.40" height="3.28" fill="rgb(0,45,0)" stroke="none" stroke-width="0" />
<rect x="214.00" y="362.88" width="12.40" height="3.28" fill="rgb(0,49,0)" stroke="none" stroke-width="0" />
<rect x="214.00" y="365.86" width="12.40" height="3.28" fill="rgb(0,82,0)" stroke="none" stroke-width="0" />
<rect x="214.00" y="368.85" width="12.40" height="3.28" fill="rgb(0,121,0)" stroke="none" stroke-width="0" />
<rect x="214.00" y="371.83" width="12.40" height="3.28" fill="rgb(0,126,0)" stroke="none" stroke-width="0" />
<rect x="214.00" y="374.82" width="12.40" height="3.28" fill="rgb(0,130,0)" stroke="none" stroke-width="0" />
<rect x="214.00" y="377.80" width="12.40" height="3.28" fill="rgb(0,134,0)" stroke="none" stroke-width="0" />
<rect x="214.00" y="380.79" width="12.40" height="3.28" fill="rgb(0,138,0)" stroke="none" stroke-width="0" />
<rect x="214.00" y="383.77" width="12.40" height="3.28" fill="rgb(0,142,0)" stroke="none" stroke-width="0" />
<rect x="214.00" y="386.76" width="12.40" height="3.28" fill="rgb(0,146,0)" stroke="none" stroke-width="0" />
<rect x="214.00" y="389.74" width="12.40" height="3.28" fill="rgb(0,151,0)" stroke="none" stroke-width="0" />
<rect x="214.00" y="392.72" width="12.40" height="3.28" fill="rgb(0,157,0)" stroke="none" stroke-width="0" />
<rect x="214.00" y="395.71" width="12.40" height="3.28" fill="rgb(0,190,0)" stroke="none" stroke-width="0" />
<rect x="214.00" y="398.69" width="12.40" height="3.28" fill="rgb(0,212,0)" stroke="none" stroke-width="0" />
<rect x="214.00" y="401.68" width="12.40" height="3.28" fill="rgb(0,217,0)" stroke="none" stroke-width="0" />
<rect x="214.00" y="404.66" width="12.40" height="3.28" fill="rgb(0,222,0)" stroke="none" stroke-width="0" />
<rect x="214.00" y="407.65" width="12.40" height="3.28" fill="rgb(0,228,0)" stroke="none" stroke-width="0" />
<rect x="214.00" y="410.63" width="12.40" height="3.28" fill="rgb(0,233,0)" stroke="none" stroke-width="0" />
<rect x="214.00" y="413.62" width="12.40" height="3.28" fill="rgb(0,238,0)" stroke="none" stroke-width="0" />
<rect x="226.40" y="186.80" width="12.30" height="1.90" fill="#6a6a6a" stroke="none" stroke-width="0" />
<rect x="226.40" y="188.70" width="12.30" height="3.40" fill="#d6d6d6" stroke="none" stroke-width="0" />
<rect x="226.40" y="192.10" width="12.30" height="2.60" fill="#6a6a6a" stroke="none" stroke-width="0" />
<rect x="226.40" y="194.70" width="12.30" height="3.40" fill="#d6d6d6" stroke="none" stroke-width="0" />
<rect x="226.40" y="198.10" width="12.30" height="2.60" fill="#6a6a6a" stroke="none" stroke-width="0" />
<rect x="226.40" y="200.70" width="12.30" height="3.40" fill="#d6d6d6" stroke="none" stroke-width="0" />
<rect x="226.40" y="204.10" width="12.30" height="16.80" fill="#6a6a6a" stroke="none" stroke-width="0" />
<rect x="226.40" y="220.90" width="12.30" height="2.90" fill="#d6d6d6" stroke="none" stroke-width="0" />
<rect x="226.40" y="223.80" width="12.30" height="3.00" fill="#6a6a6a" stroke="none" stroke-width="0" />
<rect x="226.40" y="226.80" width="12.30" height="3.00" fill="#d6d6d6" stroke="none" stroke-width="0" />
<rect x="226.40" y="229.80" width="12.30" height="8.60" fill="#6a6a6a" stroke="none" stroke-width="0" />
<rect x="226.40" y="238.40" width="12.30" height="3.00" fill="#d6d6d6" stroke="none" stroke-width="0" />
<rect x="226.40" y="241.40" width="12.30" height="8.50" fill="#6a6a6a" stroke="none" stroke-width="0" />
<rect x="226.40" y="249.90" width="12.30" height="3.00" fill="#d6d6d6" stroke="none" stroke-width="0" />
<rect x="226.40" y="252.90" width="12.30" height="5.70" fill="#6a6a6a" stroke="none" stroke-width="0" />
<rect x="226.40" y="258.60" width="12.30" height="5.50" fill="#d6d6d6" stroke="none" stroke-width="0" />
<rect x="226.40" y="264.10" width="12.30" height="8.60" fill="#6a6a6a" stroke="none" stroke-width="0" />
<rect x="226.40" y="272.70" width="12.30" height="3.40" fill="#d6d6d6" stroke="none" stroke-width="0" />
<rect x="226.40" y="276.10" width="12.30" height="8.50" fill="#6a6a6a" stroke="none" stroke-width="0" />
<rect x="226.40" y="284.60" width="12.30" height="3.00" fill="#d6d6d6" stroke="none" stroke-width="0" />
<rect x="226.40" y="287.60" width="12.30" height="5.30" fill="#000000" stroke="none" stroke-width="0" />
<rect x="226.40" y="292.90" width="12.30" height="5.90" fill="#6a6a6a" stroke="none" stroke-width="0" />
<rect x="226.40" y="298.80" width="12.30" height="2.80" fill="#000000" stroke="none" stroke-width="0" />
<rect x="226.40" y="301.60" width="12.30" height="9.20" fill="#d6d6d6" stroke="none" stroke-width="0" />
<rect x="226.40" y="310.80" width="12.30" height="2.60" fill="#6a6a6a" stroke="none" stroke-width="0" />
<rect x="226.40" y="313.40" width="12.30" height="3.00" fill="#d6d6d6" stroke="none" stroke-width="0" />
<rect x="226.40" y="316.40" width="12.30" height="2.50" fill="#6a6a6a" stroke="none" stroke-width="0" />
<rect x="226.40" y="318.90" width="12.30" height="2.60" fill="#d6d6d6" stroke="none" stroke-width="0" />
<rect x="226.40" y="321.50" width="12.30" height="3.00" fill="#6a6a6a" stroke="none" stroke-width="0" />
<rect x="226.40" y="324.50" width="12.30" height="6.50" fill="#d6d6d6" stroke="none" stroke-width="0" />
<rect x="226.40" y="331.00" width="12.30" height="5.10" fill="#6a6a6a" stroke="none" stroke-width="0" />
<rect x="226.40" y="336.10" width="12.30" height="3.00" fill="#d6d6d6" stroke="none" stroke-width="0" />
<rect x="226.40" y="339.10" width="12.30" height="3.00" fill="#6a6a6a" stroke="none" stroke-width="0" />
<rect x="226.40" y="342.10" width="12.30" height="6.00" fill="#d6d6d6" stroke="none" stroke-width="0" />
<rect x="226.40" y="348.10" width="12.30" height="2.50" fill="#000000" stroke="none" stroke-width="0" />
<rect x="226.40" y="350.60" width="12.30" height="6.50" fill="#d6d6d6" stroke="none" stroke-width="0" />
<rect x="226.40" y="357.10" width="12.30" height="2.50" fill="#6a6a6a" stroke="none" stroke-width="0" />
<rect x="226.40" y="359.60" width="12.30" height="3.20" fill="#d6d6d6" stroke="none" stroke-width="0" />
<rect x="226.40" y="362.80" width="12.30" height="2.60" fill="#000000" stroke="none" stroke-width="0" />
<rect x="226.40" y="365.40" width="12.30" height="3.00" fill="#d6d6d6" stroke="none" stroke-width="0" />
<rect x="226.40" y="368.40" width="12.30" height="2.60" fill="#6a6a6a" stroke="none" stroke-width="0" />
<rect x="226.40" y="371.00" width="12.30" height="6.00" fill="#000000" stroke="none" stroke-width="0" />
<rect x="226.40" y="377.00" width="12.30" height="3.00" fill="#d6d6d6" stroke="none" stroke-width="0" />
<rect x="226.40" y="380.00" width="12.30" height="36.60" fill="#000000" stroke="none" stroke-width="0" />
<text transform="translate(222.3,183.9) rotate(-90)" font-size="8.5" font-weight="bold">Scaled Expr.</text>
<text transform="translate(236.3,183.9) rotate(-90)" font-size="8.4" font-weight="bold">CIMP status</text>
<rect x="249.85" y="184.15" width="55.30" height="215.60" fill="#fff" stroke="#111" stroke-width="1.5" />
<text x="254.50" y="193.00" font-size="7.4" font-weight="bold" font-style="normal" text-anchor="start" fill="#000" >Methylation</text>
<text x="254.50" y="201.20" font-size="7.4" font-weight="bold" font-style="normal" text-anchor="start" fill="#000" >(&#946; value)</text>
<defs><linearGradient id="gm" x1="0" y1="0" x2="0" y2="1"><stop offset="0" stop-color="#ff0000"/><stop offset="0.5" stop-color="#ffffff"/><stop offset="1" stop-color="#0000ff"/></linearGradient><linearGradient id="ge" x1="0" y1="0" x2="0" y2="1"><stop offset="0" stop-color="#ff0000"/><stop offset="0.5" stop-color="#000000"/><stop offset="1" stop-color="#00ff00"/></linearGradient></defs>
<rect x="256.00" y="206.00" width="7.30" height="2.97" fill="rgb(255,0,0)" stroke="none" stroke-width="0" />
<rect x="256.00" y="208.67" width="7.30" height="2.97" fill="rgb(255,22,22)" stroke="none" stroke-width="0" />
<rect x="256.00" y="211.34" width="7.30" height="2.97" fill="rgb(255,44,44)" stroke="none" stroke-width="0" />
<rect x="256.00" y="214.01" width="7.30" height="2.97" fill="rgb(255,66,66)" stroke="none" stroke-width="0" />
<rect x="256.00" y="216.68" width="7.30" height="2.97" fill="rgb(255,88,88)" stroke="none" stroke-width="0" />
<rect x="256.00" y="219.35" width="7.30" height="2.97" fill="rgb(255,110,110)" stroke="none" stroke-width="0" />
<rect x="256.00" y="222.03" width="7.30" height="2.97" fill="rgb(255,133,133)" stroke="none" stroke-width="0" />
<rect x="256.00" y="224.70" width="7.30" height="2.97" fill="rgb(255,155,155)" stroke="none" stroke-width="0" />
<rect x="256.00" y="227.37" width="7.30" height="2.97" fill="rgb(255,177,177)" stroke="none" stroke-width="0" />
<rect x="256.00" y="230.04" width="7.30" height="2.97" fill="rgb(255,199,199)" stroke="none" stroke-width="0" />
<rect x="256.00" y="232.71" width="7.30" height="2.97" fill="rgb(255,221,221)" stroke="none" stroke-width="0" />
<rect x="256.00" y="235.38" width="7.30" height="2.97" fill="rgb(255,243,243)" stroke="none" stroke-width="0" />
<rect x="256.00" y="238.05" width="7.30" height="2.97" fill="rgb(243,243,255)" stroke="none" stroke-width="0" />
<rect x="256.00" y="240.72" width="7.30" height="2.97" fill="rgb(221,221,255)" stroke="none" stroke-width="0" />
<rect x="256.00" y="243.39" width="7.30" height="2.97" fill="rgb(199,199,255)" stroke="none" stroke-width="0" />
<rect x="256.00" y="246.06" width="7.30" height="2.97" fill="rgb(177,177,255)" stroke="none" stroke-width="0" />
<rect x="256.00" y="248.73" width="7.30" height="2.97" fill="rgb(155,155,255)" stroke="none" stroke-width="0" />
<rect x="256.00" y="251.40" width="7.30" height="2.97" fill="rgb(133,133,255)" stroke="none" stroke-width="0" />
<rect x="256.00" y="254.07" width="7.30" height="2.97" fill="rgb(110,110,255)" stroke="none" stroke-width="0" />
<rect x="256.00" y="256.75" width="7.30" height="2.97" fill="rgb(88,88,255)" stroke="none" stroke-width="0" />
<rect x="256.00" y="259.42" width="7.30" height="2.97" fill="rgb(66,66,255)" stroke="none" stroke-width="0" />
<rect x="256.00" y="262.09" width="7.30" height="2.97" fill="rgb(44,44,255)" stroke="none" stroke-width="0" />
<rect x="256.00" y="264.76" width="7.30" height="2.97" fill="rgb(22,22,255)" stroke="none" stroke-width="0" />
<rect x="256.00" y="267.43" width="7.30" height="2.97" fill="rgb(0,0,255)" stroke="none" stroke-width="0" />
<rect x="255.80" y="294.40" width="7.30" height="2.96" fill="rgb(255,0,0)" stroke="none" stroke-width="0" />
<rect x="255.80" y="297.06" width="7.30" height="2.96" fill="rgb(232,0,0)" stroke="none" stroke-width="0" />
<rect x="255.80" y="299.72" width="7.30" height="2.96" fill="rgb(210,0,0)" stroke="none" stroke-width="0" />
<rect x="255.80" y="302.39" width="7.30" height="2.96" fill="rgb(188,0,0)" stroke="none" stroke-width="0" />
<rect x="255.80" y="305.05" width="7.30" height="2.96" fill="rgb(166,0,0)" stroke="none" stroke-width="0" />
<rect x="255.80" y="307.71" width="7.30" height="2.96" fill="rgb(144,0,0)" stroke="none" stroke-width="0" />
<rect x="255.80" y="310.38" width="7.30" height="2.96" fill="rgb(121,0,0)" stroke="none" stroke-width="0" />
<rect x="255.80" y="313.04" width="7.30" height="2.96" fill="rgb(99,0,0)" stroke="none" stroke-width="0" />
<rect x="255.80" y="315.70" width="7.30" height="2.96" fill="rgb(77,0,0)" stroke="none" stroke-width="0" />
<rect x="255.80" y="318.36" width="7.30" height="2.96" fill="rgb(55,0,0)" stroke="none" stroke-width="0" />
<rect x="255.80" y="321.02" width="7.30" height="2.96" fill="rgb(33,0,0)" stroke="none" stroke-width="0" />
<rect x="255.80" y="323.69" width="7.30" height="2.96" fill="rgb(11,0,0)" stroke="none" stroke-width="0" />
<rect x="255.80" y="326.35" width="7.30" height="2.96" fill="rgb(0,11,0)" stroke="none" stroke-width="0" />
<rect x="255.80" y="329.01" width="7.30" height="2.96" fill="rgb(0,33,0)" stroke="none" stroke-width="0" />
<rect x="255.80" y="331.67" width="7.30" height="2.96" fill="rgb(0,55,0)" stroke="none" stroke-width="0" />
<rect x="255.80" y="334.34" width="7.30" height="2.96" fill="rgb(0,77,0)" stroke="none" stroke-width="0" />
<rect x="255.80" y="337.00" width="7.30" height="2.96" fill="rgb(0,99,0)" stroke="none" stroke-width="0" />
<rect x="255.80" y="339.66" width="7.30" height="2.96" fill="rgb(0,121,0)" stroke="none" stroke-width="0" />
<rect x="255.80" y="342.32" width="7.30" height="2.96" fill="rgb(0,144,0)" stroke="none" stroke-width="0" />
<rect x="255.80" y="344.99" width="7.30" height="2.96" fill="rgb(0,166,0)" stroke="none" stroke-width="0" />
<rect x="255.80" y="347.65" width="7.30" height="2.96" fill="rgb(0,188,0)" stroke="none" stroke-width="0" />
<rect x="255.80" y="350.31" width="7.30" height="2.96" fill="rgb(0,210,0)" stroke="none" stroke-width="0" />
<rect x="255.80" y="352.97" width="7.30" height="2.96" fill="rgb(0,232,0)" stroke="none" stroke-width="0" />
<rect x="255.80" y="355.64" width="7.30" height="2.96" fill="rgb(0,255,0)" stroke="none" stroke-width="0" />
<line x1="263.20" y1="206.00" x2="266.20" y2="206.00" stroke="#000" stroke-width="0.9" />
<text x="267.40" y="208.30" font-size="6.6" font-weight="normal" font-style="normal" text-anchor="start" fill="#222" >1</text>
<line x1="263.20" y1="238.00" x2="266.20" y2="238.00" stroke="#000" stroke-width="0.9" />
<text x="267.40" y="240.30" font-size="6.6" font-weight="normal" font-style="normal" text-anchor="start" fill="#222" >0.5</text>
<line x1="263.20" y1="270.10" x2="266.20" y2="270.10" stroke="#000" stroke-width="0.9" />
<text x="267.40" y="272.40" font-size="6.6" font-weight="normal" font-style="normal" text-anchor="start" fill="#222" >0</text>
<line x1="263.20" y1="294.40" x2="266.20" y2="294.40" stroke="#000" stroke-width="0.9" />
<text x="267.40" y="296.70" font-size="6.6" font-weight="normal" font-style="normal" text-anchor="start" fill="#222" >1</text>
<line x1="263.20" y1="326.30" x2="266.20" y2="326.30" stroke="#000" stroke-width="0.9" />
<text x="267.40" y="328.60" font-size="6.6" font-weight="normal" font-style="normal" text-anchor="start" fill="#222" >0.5</text>
<line x1="263.20" y1="358.30" x2="266.20" y2="358.30" stroke="#000" stroke-width="0.9" />
<text x="267.40" y="360.60" font-size="6.6" font-weight="normal" font-style="normal" text-anchor="start" fill="#222" >0</text>
<text x="254.50" y="281.80" font-size="7.5" font-weight="bold" font-style="normal" text-anchor="start" fill="#000" >Scaled</text>
<text x="254.50" y="289.90" font-size="7.5" font-weight="bold" font-style="normal" text-anchor="start" fill="#000" >expression</text>
<text x="254.60" y="370.30" font-size="7.5" font-weight="bold" font-style="normal" text-anchor="start" fill="#000" >CIMP status</text>
<rect x="256.00" y="375.50" width="6.40" height="3.50" fill="#6b6b6b" stroke="none" stroke-width="0" />
<rect x="256.00" y="383.00" width="6.40" height="3.60" fill="#c4c4c4" stroke="none" stroke-width="0" />
<rect x="256.00" y="391.00" width="6.40" height="3.50" fill="#000" stroke="none" stroke-width="0" />
<text x="265.80" y="379.10" font-size="7.6" font-weight="normal" font-style="normal" text-anchor="start" fill="#000" >CIMP-low</text>
<text x="265.80" y="386.70" font-size="7.6" font-weight="normal" font-style="normal" text-anchor="start" fill="#000" >CIMP-int.</text>
<text x="265.80" y="394.40" font-size="7.6" font-weight="normal" font-style="normal" text-anchor="start" fill="#000" >CIMP-high</text>
<rect x="98.50" y="428.70" width="58.40" height="3.80" fill="#f47ae8" stroke="none" stroke-width="0" />
<text x="325.30" y="14.70" font-size="17.0" font-weight="bold" font-style="normal" text-anchor="start" fill="#000" >B</text>
<line x1="371.10" y1="19.60" x2="371.10" y2="119.60" stroke="#000" stroke-width="1.6" />
<line x1="370.30" y1="118.80" x2="520.00" y2="118.80" stroke="#000" stroke-width="1.6" />
<line x1="367.40" y1="118.80" x2="371.10" y2="118.80" stroke="#000" stroke-width="1.3" />
<text x="366.00" y="121.40" font-size="7.4" font-weight="bold" font-style="normal" text-anchor="end" fill="#000" >0.0</text>
<line x1="367.40" y1="99.10" x2="371.10" y2="99.10" stroke="#000" stroke-width="1.3" />
<text x="366.00" y="101.70" font-size="7.4" font-weight="bold" font-style="normal" text-anchor="end" fill="#000" >0.2</text>
<line x1="367.40" y1="79.40" x2="371.10" y2="79.40" stroke="#000" stroke-width="1.3" />
<text x="366.00" y="82.00" font-size="7.4" font-weight="bold" font-style="normal" text-anchor="end" fill="#000" >0.4</text>
<line x1="367.40" y1="59.70" x2="371.10" y2="59.70" stroke="#000" stroke-width="1.3" />
<text x="366.00" y="62.30" font-size="7.4" font-weight="bold" font-style="normal" text-anchor="end" fill="#000" >0.6</text>
<line x1="367.40" y1="40.00" x2="371.10" y2="40.00" stroke="#000" stroke-width="1.3" />
<text x="366.00" y="42.60" font-size="7.4" font-weight="bold" font-style="normal" text-anchor="end" fill="#000" >0.8</text>
<line x1="367.40" y1="20.30" x2="371.10" y2="20.30" stroke="#000" stroke-width="1.3" />
<text x="366.00" y="22.90" font-size="7.4" font-weight="bold" font-style="normal" text-anchor="end" fill="#000" >1.0</text>
<line x1="401.00" y1="118.80" x2="401.00" y2="122.40" stroke="#000" stroke-width="1.3" />
<line x1="445.40" y1="118.80" x2="445.40" y2="122.40" stroke="#000" stroke-width="1.3" />
<line x1="489.80" y1="118.80" x2="489.80" y2="122.40" stroke="#000" stroke-width="1.3" />
<text x="401.00" y="129.50" font-size="7.6" font-weight="bold" font-style="normal" text-anchor="middle" fill="#000" >CIMP-low</text>
<text x="445.40" y="129.50" font-size="7.6" font-weight="bold" font-style="normal" text-anchor="middle" fill="#000" >CIMP-int.</text>
<text x="489.70" y="129.50" font-size="7.6" font-weight="bold" font-style="normal" text-anchor="middle" fill="#000" >CIMP-high</text>
<text transform="translate(350.0,72.4) rotate(-90)" font-size="8.15" font-weight="bold" text-anchor="middle"><tspan font-style="italic">G0S2</tspan> methylation, 450k (&#946; value)</text>
<rect x="369.00" y="134.30" width="143.50" height="16.90" fill="#fff" stroke="#111" stroke-width="1.0" />
<text x="440.70" y="141.30" font-size="5.98" font-weight="normal" font-style="normal" text-anchor="middle" fill="#000" >Kruskal-Wallis with Dunn&#8217;s multiple comparisons test</text>
<text x="440.90" y="147.90" font-size="5.9" font-weight="normal" font-style="normal" text-anchor="middle" fill="#000" ><tspan font-style="italic">P</tspan> &lt; 0.0001 (****), <tspan font-style="italic">P</tspan> &#8805; 0.05 (n.s.)</text>
<path d="M399.0,11.2 V7.4 H489.8 V11.2" fill="none" stroke="#000" stroke-width="1.4"/>
<path d="M399.0,26.0 V22.4 H441.5 V26.0" fill="none" stroke="#000" stroke-width="1.4"/>
<path d="M446.8,26.0 V22.4 H489.8 V26.0" fill="none" stroke="#000" stroke-width="1.4"/>
<text x="444.20" y="7.00" font-size="6.0" font-weight="normal" font-style="normal" text-anchor="middle" fill="#000" >****</text>
<text x="420.60" y="19.60" font-size="6.5" font-weight="normal" font-style="normal" text-anchor="middle" fill="#000" >n.s.</text>
<text x="468.40" y="22.00" font-size="6.0" font-weight="normal" font-style="normal" text-anchor="middle" fill="#000" >****</text>
<circle cx="400.90" cy="93.20" r="1.9" fill="#6a6a6a"/>
<circle cx="400.90" cy="107.40" r="1.9" fill="#6a6a6a"/>
<circle cx="387.80" cy="110.20" r="1.9" fill="#5a5a5a"/>
<circle cx="390.50" cy="110.60" r="1.9" fill="#5a5a5a"/>
<circle cx="393.50" cy="110.80" r="1.9" fill="#5a5a5a"/>
<circle cx="396.50" cy="111.00" r="1.9" fill="#5a5a5a"/>
<circle cx="399.50" cy="111.00" r="1.9" fill="#5a5a5a"/>
<circle cx="402.50" cy="111.00" r="1.9" fill="#5a5a5a"/>
<circle cx="405.50" cy="111.00" r="1.9" fill="#5a5a5a"/>
<circle cx="408.50" cy="110.80" r="1.9" fill="#5a5a5a"/>
<circle cx="411.50" cy="110.60" r="1.9" fill="#5a5a5a"/>
<circle cx="414.20" cy="110.20" r="1.9" fill="#5a5a5a"/>
<circle cx="391.50" cy="112.00" r="1.9" fill="#5a5a5a"/>
<circle cx="394.50" cy="112.40" r="1.9" fill="#5a5a5a"/>
<circle cx="397.50" cy="112.60" r="1.9" fill="#5a5a5a"/>
<circle cx="400.50" cy="112.60" r="1.9" fill="#5a5a5a"/>
<circle cx="403.50" cy="112.60" r="1.9" fill="#5a5a5a"/>
<circle cx="406.50" cy="112.40" r="1.9" fill="#5a5a5a"/>
<circle cx="409.50" cy="112.00" r="1.9" fill="#5a5a5a"/>
<circle cx="395.50" cy="113.60" r="1.9" fill="#5a5a5a"/>
<circle cx="398.50" cy="114.00" r="1.9" fill="#5a5a5a"/>
<circle cx="401.50" cy="114.00" r="1.9" fill="#5a5a5a"/>
<circle cx="404.50" cy="114.00" r="1.9" fill="#5a5a5a"/>
<circle cx="407.00" cy="113.60" r="1.9" fill="#5a5a5a"/>
<circle cx="399.50" cy="115.00" r="1.9" fill="#5a5a5a"/>
<circle cx="402.50" cy="115.00" r="1.9" fill="#5a5a5a"/>
<line x1="386.70" y1="111.40" x2="415.80" y2="111.40" stroke="#000" stroke-width="1.5" />
<line x1="394.00" y1="110.20" x2="408.00" y2="110.20" stroke="#000" stroke-width="1.2" />
<line x1="394.00" y1="112.80" x2="408.00" y2="112.80" stroke="#000" stroke-width="1.2" />
<circle cx="445.30" cy="45.50" r="1.9" fill="#b9b9b9"/>
<circle cx="442.30" cy="55.40" r="1.9" fill="#b9b9b9"/>
<circle cx="448.30" cy="60.90" r="1.9" fill="#b9b9b9"/>
<circle cx="445.30" cy="76.30" r="1.9" fill="#b9b9b9"/>
<circle cx="442.30" cy="79.70" r="1.9" fill="#b9b9b9"/>
<circle cx="448.30" cy="84.20" r="1.9" fill="#b9b9b9"/>
<circle cx="450.80" cy="100.80" r="1.9" fill="#b9b9b9"/>
<circle cx="439.70" cy="105.90" r="1.9" fill="#b9b9b9"/>
<circle cx="433.50" cy="111.60" r="1.9" fill="#c4c4c4"/>
<circle cx="435.50" cy="112.30" r="1.9" fill="#c4c4c4"/>
<circle cx="437.50" cy="112.70" r="1.9" fill="#c4c4c4"/>
<circle cx="439.50" cy="112.90" r="1.9" fill="#c4c4c4"/>
<circle cx="441.50" cy="113.00" r="1.9" fill="#c4c4c4"/>
<circle cx="443.50" cy="113.00" r="1.9" fill="#c4c4c4"/>
<circle cx="445.50" cy="113.00" r="1.9" fill="#c4c4c4"/>
<circle cx="447.50" cy="113.00" r="1.9" fill="#c4c4c4"/>
<circle cx="449.50" cy="113.00" r="1.9" fill="#c4c4c4"/>
<circle cx="451.50" cy="112.90" r="1.9" fill="#c4c4c4"/>
<circle cx="453.50" cy="112.70" r="1.9" fill="#c4c4c4"/>
<circle cx="455.50" cy="112.30" r="1.9" fill="#c4c4c4"/>
<circle cx="457.50" cy="111.60" r="1.9" fill="#c4c4c4"/>
<circle cx="438.00" cy="111.80" r="1.9" fill="#c4c4c4"/>
<circle cx="441.00" cy="112.00" r="1.9" fill="#c4c4c4"/>
<circle cx="444.00" cy="112.00" r="1.9" fill="#c4c4c4"/>
<circle cx="447.00" cy="112.00" r="1.9" fill="#c4c4c4"/>
<circle cx="450.00" cy="112.00" r="1.9" fill="#c4c4c4"/>
<circle cx="453.00" cy="111.80" r="1.9" fill="#c4c4c4"/>
<line x1="430.30" y1="100.80" x2="460.80" y2="100.80" stroke="#000" stroke-width="1.5" />
<line x1="437.10" y1="92.40" x2="453.40" y2="92.40" stroke="#000" stroke-width="1.5" />
<line x1="437.10" y1="108.80" x2="453.40" y2="108.80" stroke="#000" stroke-width="1.5" />
<line x1="445.30" y1="92.40" x2="445.30" y2="108.80" stroke="#000" stroke-width="1.5" />
<circle cx="480.80" cy="33.00" r="1.9" fill="#000"/>
<circle cx="489.80" cy="32.50" r="1.9" fill="#000"/>
<circle cx="498.40" cy="35.20" r="1.9" fill="#000"/>
<circle cx="487.00" cy="36.00" r="1.9" fill="#000"/>
<circle cx="492.60" cy="38.70" r="1.9" fill="#000"/>
<circle cx="483.70" cy="40.00" r="1.9" fill="#000"/>
<circle cx="489.80" cy="44.80" r="1.9" fill="#000"/>
<circle cx="498.70" cy="44.50" r="1.9" fill="#000"/>
<circle cx="501.40" cy="46.70" r="1.9" fill="#000"/>
<circle cx="477.80" cy="49.10" r="1.9" fill="#000"/>
<circle cx="483.70" cy="49.60" r="1.9" fill="#000"/>
<circle cx="489.80" cy="50.70" r="1.9" fill="#000"/>
<circle cx="495.80" cy="49.10" r="1.9" fill="#000"/>
<circle cx="487.00" cy="57.70" r="1.9" fill="#000"/>
<circle cx="492.60" cy="56.90" r="1.9" fill="#000"/>
<circle cx="483.70" cy="66.20" r="1.9" fill="#000"/>
<circle cx="495.50" cy="65.50" r="1.9" fill="#000"/>
<circle cx="489.80" cy="70.00" r="1.9" fill="#000"/>
<circle cx="489.80" cy="111.60" r="1.9" fill="#000"/>
<line x1="474.40" y1="51.20" x2="505.10" y2="51.20" stroke="#000" stroke-width="1.5" />
<line x1="482.10" y1="42.10" x2="497.10" y2="42.10" stroke="#000" stroke-width="1.5" />
<line x1="482.10" y1="60.30" x2="497.10" y2="60.30" stroke="#000" stroke-width="1.5" />
<line x1="489.80" y1="42.10" x2="489.80" y2="60.30" stroke="#000" stroke-width="1.5" />
<text x="324.90" y="178.60" font-size="16.9" font-weight="bold" font-style="normal" text-anchor="start" fill="#000" >C</text>
<line x1="371.20" y1="174.31" x2="371.20" y2="271.40" stroke="#000" stroke-width="1.6" />
<line x1="370.40" y1="270.90" x2="516.00" y2="270.90" stroke="#000" stroke-width="1.6" />
<line x1="367.40" y1="271.20" x2="371.20" y2="271.20" stroke="#000" stroke-width="1.3" />
<text x="366.60" y="273.80" font-size="7.3" font-weight="bold" font-style="normal" text-anchor="end" fill="#000" >0</text>
<line x1="367.40" y1="239.13" x2="371.20" y2="239.13" stroke="#000" stroke-width="1.3" />
<text x="366.60" y="241.73" font-size="7.3" font-weight="bold" font-style="normal" text-anchor="end" fill="#000" >5</text>
<line x1="367.40" y1="207.07" x2="371.20" y2="207.07" stroke="#000" stroke-width="1.3" />
<text x="366.60" y="209.67" font-size="7.3" font-weight="bold" font-style="normal" text-anchor="end" fill="#000" >10</text>
<line x1="367.40" y1="175.00" x2="371.20" y2="175.00" stroke="#000" stroke-width="1.3" />
<text x="366.60" y="177.60" font-size="7.3" font-weight="bold" font-style="normal" text-anchor="end" fill="#000" >15</text>
<line x1="400.20" y1="270.90" x2="400.20" y2="274.40" stroke="#000" stroke-width="1.3" />
<line x1="442.90" y1="270.90" x2="442.90" y2="274.40" stroke="#000" stroke-width="1.3" />
<line x1="486.50" y1="270.90" x2="486.50" y2="274.40" stroke="#000" stroke-width="1.3" />
<text x="400.30" y="281.30" font-size="7.4" font-weight="bold" font-style="normal" text-anchor="middle" fill="#000" >CIMP-low</text>
<text x="443.40" y="281.30" font-size="7.4" font-weight="bold" font-style="normal" text-anchor="middle" fill="#000" >CIMP-int.</text>
<text x="486.50" y="281.30" font-size="7.4" font-weight="bold" font-style="normal" text-anchor="middle" fill="#000" >CIMP-high</text>
<text transform="translate(343.9,222.6) rotate(-90)" font-size="7.9" font-weight="bold" text-anchor="middle"><tspan font-style="italic">G0S2</tspan> expression</text>
<text transform="translate(352.8,223.0) rotate(-90)" font-size="7.9" font-weight="bold" text-anchor="middle">log<tspan font-size="5.5" dy="1.6">2</tspan><tspan dy="-1.6"> (CPM)</tspan></text>
<rect x="369.00" y="286.40" width="143.50" height="16.80" fill="#fff" stroke="#111" stroke-width="1.0" />
<text x="440.60" y="293.30" font-size="5.98" font-weight="normal" font-style="normal" text-anchor="middle" fill="#000" >Kruskal-Wallis with Dunn&#8217;s multiple comparisons test</text>
<text x="440.80" y="299.90" font-size="5.9" font-weight="normal" font-style="normal" text-anchor="middle" fill="#000" ><tspan font-style="italic">P</tspan> &lt; 0.0001 (****), <tspan font-style="italic">P</tspan> &#8805; 0.05 (n.s.)</text>
<path d="M400.5,166.79999999999998 V163.2 H489.6 V166.79999999999998" fill="none" stroke="#000" stroke-width="1.4"/>
<path d="M400.5,181.0 V177.2 H442.8 V181.0" fill="none" stroke="#000" stroke-width="1.4"/>
<path d="M446.9,181.0 V177.2 H489.6 V181.0" fill="none" stroke="#000" stroke-width="1.4"/>
<text x="444.60" y="162.60" font-size="6.0" font-weight="normal" font-style="normal" text-anchor="middle" fill="#000" >****</text>
<text x="422.40" y="175.00" font-size="6.5" font-weight="normal" font-style="normal" text-anchor="middle" fill="#000" >n.s.</text>
<text x="469.50" y="176.60" font-size="6.0" font-weight="normal" font-style="normal" text-anchor="middle" fill="#000" >****</text>
<circle cx="394.10" cy="188.30" r="1.9" fill="#6a6a6a"/>
<circle cx="403.00" cy="186.20" r="1.9" fill="#6a6a6a"/>
<circle cx="397.60" cy="191.10" r="1.9" fill="#6a6a6a"/>
<circle cx="390.70" cy="192.80" r="1.9" fill="#6a6a6a"/>
<circle cx="395.40" cy="193.70" r="1.9" fill="#6a6a6a"/>
<circle cx="402.70" cy="192.80" r="1.9" fill="#6a6a6a"/>
<circle cx="405.30" cy="193.30" r="1.9" fill="#6a6a6a"/>
<circle cx="409.60" cy="193.30" r="1.9" fill="#6a6a6a"/>
<circle cx="387.70" cy="195.80" r="1.9" fill="#6a6a6a"/>
<circle cx="392.80" cy="197.10" r="1.9" fill="#6a6a6a"/>
<circle cx="398.40" cy="195.40" r="1.9" fill="#6a6a6a"/>
<circle cx="402.10" cy="197.60" r="1.9" fill="#6a6a6a"/>
<circle cx="407.40" cy="196.70" r="1.9" fill="#6a6a6a"/>
<circle cx="412.10" cy="195.80" r="1.9" fill="#6a6a6a"/>
<circle cx="388.60" cy="202.70" r="1.9" fill="#6a6a6a"/>
<circle cx="397.60" cy="201.00" r="1.9" fill="#6a6a6a"/>
<circle cx="405.70" cy="204.40" r="1.9" fill="#6a6a6a"/>
<circle cx="411.70" cy="202.40" r="1.9" fill="#6a6a6a"/>
<circle cx="394.10" cy="206.10" r="1.9" fill="#6a6a6a"/>
<circle cx="400.50" cy="206.50" r="1.9" fill="#6a6a6a"/>
<circle cx="388.60" cy="209.10" r="1.9" fill="#6a6a6a"/>
<circle cx="411.70" cy="209.60" r="1.9" fill="#6a6a6a"/>
<circle cx="392.00" cy="211.70" r="1.9" fill="#6a6a6a"/>
<circle cx="396.30" cy="213.80" r="1.9" fill="#6a6a6a"/>
<circle cx="399.70" cy="214.70" r="1.9" fill="#6a6a6a"/>
<circle cx="403.60" cy="214.70" r="1.9" fill="#6a6a6a"/>
<circle cx="407.80" cy="212.40" r="1.9" fill="#6a6a6a"/>
<circle cx="406.10" cy="219.40" r="1.9" fill="#6a6a6a"/>
<circle cx="394.60" cy="222.70" r="1.9" fill="#6a6a6a"/>
<circle cx="400.50" cy="224.00" r="1.9" fill="#6a6a6a"/>
<circle cx="403.20" cy="230.90" r="1.9" fill="#6a6a6a"/>
<circle cx="397.40" cy="236.00" r="1.9" fill="#6a6a6a"/>
<line x1="385.10" y1="204.80" x2="415.10" y2="204.80" stroke="#000" stroke-width="1.5" />
<line x1="392.80" y1="200.30" x2="407.40" y2="200.30" stroke="#000" stroke-width="1.5" />
<line x1="392.80" y1="209.40" x2="407.40" y2="209.40" stroke="#000" stroke-width="1.5" />
<line x1="400.30" y1="200.30" x2="400.30" y2="209.40" stroke="#000" stroke-width="1.5" />
<circle cx="440.40" cy="188.20" r="1.9" fill="#b9b9b9"/>
<circle cx="449.10" cy="190.50" r="1.9" fill="#b9b9b9"/>
<circle cx="452.40" cy="192.40" r="1.9" fill="#b9b9b9"/>
<circle cx="434.50" cy="194.20" r="1.9" fill="#b9b9b9"/>
<circle cx="440.40" cy="196.70" r="1.9" fill="#b9b9b9"/>
<circle cx="446.40" cy="195.60" r="1.9" fill="#b9b9b9"/>
<circle cx="437.30" cy="203.30" r="1.9" fill="#b9b9b9"/>
<circle cx="443.30" cy="203.30" r="1.9" fill="#b9b9b9"/>
<circle cx="449.10" cy="201.80" r="1.9" fill="#b9b9b9"/>
<circle cx="443.60" cy="209.00" r="1.9" fill="#b9b9b9"/>
<circle cx="434.50" cy="214.50" r="1.9" fill="#b9b9b9"/>
<circle cx="448.20" cy="215.50" r="1.9" fill="#b9b9b9"/>
<circle cx="438.20" cy="217.30" r="1.9" fill="#b9b9b9"/>
<circle cx="437.30" cy="224.00" r="1.9" fill="#b9b9b9"/>
<circle cx="434.50" cy="228.70" r="1.9" fill="#b9b9b9"/>
<circle cx="443.30" cy="227.60" r="1.9" fill="#b9b9b9"/>
<circle cx="449.10" cy="225.80" r="1.9" fill="#b9b9b9"/>
<circle cx="452.40" cy="230.00" r="1.9" fill="#b9b9b9"/>
<circle cx="440.40" cy="232.40" r="1.9" fill="#b9b9b9"/>
<circle cx="446.40" cy="234.00" r="1.9" fill="#b9b9b9"/>
<circle cx="443.30" cy="244.00" r="1.9" fill="#b9b9b9"/>
<line x1="428.70" y1="213.00" x2="458.20" y2="213.00" stroke="#000" stroke-width="1.5" />
<line x1="436.00" y1="206.90" x2="450.90" y2="206.90" stroke="#000" stroke-width="1.5" />
<line x1="436.00" y1="219.00" x2="450.90" y2="219.00" stroke="#000" stroke-width="1.5" />
<line x1="443.30" y1="206.90" x2="443.30" y2="219.00" stroke="#000" stroke-width="1.5" />
<circle cx="483.20" cy="210.50" r="1.9" fill="#000"/>
<circle cx="489.00" cy="211.30" r="1.9" fill="#000"/>
<circle cx="489.40" cy="228.20" r="1.9" fill="#000"/>
<circle cx="483.40" cy="233.20" r="1.9" fill="#000"/>
<circle cx="498.00" cy="241.70" r="1.9" fill="#000"/>
<circle cx="474.40" cy="243.20" r="1.9" fill="#000"/>
<circle cx="478.70" cy="244.30" r="1.9" fill="#000"/>
<circle cx="482.60" cy="245.60" r="1.9" fill="#000"/>
<circle cx="486.40" cy="245.60" r="1.9" fill="#000"/>
<circle cx="490.30" cy="245.60" r="1.9" fill="#000"/>
<circle cx="494.10" cy="244.30" r="1.9" fill="#000"/>
<circle cx="477.90" cy="249.40" r="1.9" fill="#000"/>
<circle cx="495.40" cy="248.10" r="1.9" fill="#000"/>
<circle cx="483.40" cy="252.80" r="1.9" fill="#000"/>
<circle cx="489.00" cy="252.80" r="1.9" fill="#000"/>
<circle cx="480.40" cy="257.40" r="1.9" fill="#000"/>
<circle cx="492.40" cy="256.30" r="1.9" fill="#000"/>
<circle cx="486.20" cy="259.70" r="1.9" fill="#000"/>
<circle cx="486.50" cy="267.60" r="1.9" fill="#000"/>
<line x1="472.30" y1="244.30" x2="501.40" y2="244.30" stroke="#000" stroke-width="1.5" />
<line x1="479.10" y1="237.00" x2="493.70" y2="237.00" stroke="#000" stroke-width="1.5" />
<line x1="479.10" y1="251.10" x2="493.70" y2="251.10" stroke="#000" stroke-width="1.5" />
<line x1="486.30" y1="237.00" x2="486.30" y2="251.10" stroke="#000" stroke-width="1.5" />
<text x="325.30" y="318.40" font-size="17.0" font-weight="bold" font-style="normal" text-anchor="start" fill="#000" >D</text>
<line x1="371.50" y1="313.60" x2="371.50" y2="428.70" stroke="#000" stroke-width="1.6" />
<line x1="370.70" y1="428.00" x2="510.60" y2="428.00" stroke="#000" stroke-width="1.6" />
<line x1="367.60" y1="314.30" x2="371.50" y2="314.30" stroke="#000" stroke-width="1.3" />
<text x="366.60" y="316.90" font-size="7.3" font-weight="bold" font-style="normal" text-anchor="end" fill="#000" >4</text>
<line x1="367.60" y1="342.50" x2="371.50" y2="342.50" stroke="#000" stroke-width="1.3" />
<text x="366.60" y="345.10" font-size="7.3" font-weight="bold" font-style="normal" text-anchor="end" fill="#000" >2</text>
<line x1="367.60" y1="370.70" x2="371.50" y2="370.70" stroke="#000" stroke-width="1.3" />
<text x="366.60" y="373.30" font-size="7.3" font-weight="bold" font-style="normal" text-anchor="end" fill="#000" >0</text>
<line x1="367.60" y1="398.90" x2="371.50" y2="398.90" stroke="#000" stroke-width="1.3" />
<text x="366.60" y="401.50" font-size="7.3" font-weight="bold" font-style="normal" text-anchor="end" fill="#000" >-2</text>
<line x1="367.60" y1="427.10" x2="371.50" y2="427.10" stroke="#000" stroke-width="1.3" />
<text x="366.60" y="429.70" font-size="7.3" font-weight="bold" font-style="normal" text-anchor="end" fill="#000" >-4</text>
<line x1="371.40" y1="428.00" x2="371.40" y2="431.40" stroke="#000" stroke-width="1.3" />
<text x="371.40" y="439.20" font-size="7.3" font-weight="bold" font-style="normal" text-anchor="middle" fill="#000" >0</text>
<line x1="417.55" y1="428.00" x2="417.55" y2="431.40" stroke="#000" stroke-width="1.3" />
<text x="417.55" y="439.20" font-size="7.3" font-weight="bold" font-style="normal" text-anchor="middle" fill="#000" >5</text>
<line x1="463.70" y1="428.00" x2="463.70" y2="431.40" stroke="#000" stroke-width="1.3" />
<text x="463.70" y="439.20" font-size="7.3" font-weight="bold" font-style="normal" text-anchor="middle" fill="#000" >10</text>
<line x1="509.85" y1="428.00" x2="509.85" y2="431.40" stroke="#000" stroke-width="1.3" />
<text x="509.85" y="439.20" font-size="7.3" font-weight="bold" font-style="normal" text-anchor="middle" fill="#000" >15</text>
<text transform="translate(344.7,369.0) rotate(-90)" font-size="8.5" font-weight="bold" text-anchor="middle"><tspan font-style="italic">G0S2</tspan> methylation, 450k</text>
<text transform="translate(354.6,371.8) rotate(-90)" font-size="8.4" font-weight="bold" text-anchor="middle">logit (&#946; value)</text>
<text x="443.50" y="451.80" font-size="8.4" font-weight="bold" font-style="normal" text-anchor="middle" fill="#000" ><tspan font-style="italic">G0S2</tspan> Expression</text>
<text x="442.4" y="461.3" font-size="8.4" font-weight="bold" text-anchor="middle">log<tspan font-size="5.8" dy="1.8">2</tspan><tspan dy="-1.8"> (CPM)</tspan></text>
<rect x="416.80" y="314.40" width="92.60" height="16.50" fill="#fff" stroke="#111" stroke-width="1.1" />
<text x="463.20" y="320.90" font-size="6.3" font-weight="normal" font-style="normal" text-anchor="middle" fill="#000" >Pearson correlation</text>
<text x="463.60" y="328.30" font-size="6.3" font-weight="normal" font-style="normal" text-anchor="middle" fill="#000" ><tspan font-style="italic">P</tspan> &lt; 2.2e-16, <tspan font-style="italic">r</tspan> = -0.82, <tspan font-style="italic">R</tspan><tspan font-size="4.3" dy="-2">2</tspan><tspan dy="2"> = 0.68</tspan></text>
<line x1="374.5" y1="346.0" x2="492.5" y2="421.0" stroke="#444" stroke-width="1.3" stroke-dasharray="1.6 1.6"/>
<circle cx="426.70" cy="355.50" r="1.9" fill="#bdbdbd"/>
<circle cx="409.70" cy="363.70" r="1.9" fill="#bdbdbd"/>
<circle cx="433.70" cy="365.70" r="1.9" fill="#bdbdbd"/>
<circle cx="424.00" cy="374.70" r="1.9" fill="#bdbdbd"/>
<circle cx="430.00" cy="379.20" r="1.9" fill="#bdbdbd"/>
<circle cx="431.50" cy="392.70" r="1.9" fill="#bdbdbd"/>
<circle cx="438.60" cy="385.20" r="1.9" fill="#bdbdbd"/>
<circle cx="453.60" cy="376.80" r="1.9" fill="#bdbdbd"/>
<circle cx="448.30" cy="404.80" r="1.9" fill="#bdbdbd"/>
<circle cx="454.00" cy="400.00" r="1.9" fill="#bdbdbd"/>
<circle cx="483.70" cy="398.80" r="1.9" fill="#bdbdbd"/>
<circle cx="454.10" cy="399.90" r="1.9" fill="#bdbdbd"/>
<circle cx="448.30" cy="404.50" r="1.9" fill="#bdbdbd"/>
<circle cx="448.30" cy="409.90" r="1.9" fill="#bdbdbd"/>
<circle cx="489.80" cy="405.60" r="1.9" fill="#bdbdbd"/>
<circle cx="486.40" cy="412.30" r="1.9" fill="#bdbdbd"/>
<circle cx="435.40" cy="412.80" r="1.9" fill="#bdbdbd"/>
<circle cx="448.50" cy="404.60" r="1.9" fill="#bdbdbd"/>
<circle cx="448.50" cy="410.00" r="1.9" fill="#bdbdbd"/>
<circle cx="431.50" cy="393.10" r="1.9" fill="#bdbdbd"/>
<circle cx="459.80" cy="386.10" r="1.9" fill="#6a6a6a"/>
<circle cx="443.80" cy="406.90" r="1.9" fill="#6a6a6a"/>
<circle cx="440.70" cy="408.90" r="1.9" fill="#6a6a6a"/>
<circle cx="452.10" cy="408.30" r="1.9" fill="#6a6a6a"/>
<circle cx="455.90" cy="406.90" r="1.9" fill="#6a6a6a"/>
<circle cx="458.80" cy="406.90" r="1.9" fill="#6a6a6a"/>
<circle cx="452.80" cy="411.60" r="1.9" fill="#6a6a6a"/>
<circle cx="460.90" cy="411.00" r="1.9" fill="#6a6a6a"/>
<circle cx="451.80" cy="415.70" r="1.9" fill="#6a6a6a"/>
<circle cx="464.20" cy="415.30" r="1.9" fill="#6a6a6a"/>
<circle cx="466.90" cy="411.00" r="1.9" fill="#6a6a6a"/>
<circle cx="469.60" cy="410.30" r="1.9" fill="#6a6a6a"/>
<circle cx="472.30" cy="411.20" r="1.9" fill="#6a6a6a"/>
<circle cx="477.40" cy="400.90" r="1.9" fill="#6a6a6a"/>
<circle cx="475.70" cy="405.60" r="1.9" fill="#6a6a6a"/>
<circle cx="479.00" cy="404.90" r="1.9" fill="#6a6a6a"/>
<circle cx="483.10" cy="404.20" r="1.9" fill="#6a6a6a"/>
<circle cx="480.40" cy="407.60" r="1.9" fill="#6a6a6a"/>
<circle cx="484.40" cy="407.60" r="1.9" fill="#6a6a6a"/>
<circle cx="478.40" cy="411.20" r="1.9" fill="#6a6a6a"/>
<circle cx="482.40" cy="411.60" r="1.9" fill="#6a6a6a"/>
<circle cx="486.00" cy="409.50" r="1.9" fill="#6a6a6a"/>
<circle cx="489.80" cy="410.70" r="1.9" fill="#6a6a6a"/>
<circle cx="493.20" cy="408.00" r="1.9" fill="#6a6a6a"/>
<circle cx="428.20" cy="410.00" r="1.9" fill="#6a6a6a"/>
<circle cx="421.10" cy="416.50" r="1.9" fill="#6a6a6a"/>
<circle cx="437.70" cy="407.70" r="1.9" fill="#6a6a6a"/>
<circle cx="440.80" cy="408.90" r="1.9" fill="#6a6a6a"/>
<circle cx="375.20" cy="355.30" r="1.9" fill="#000"/>
<circle cx="387.40" cy="343.60" r="1.9" fill="#000"/>
<circle cx="391.70" cy="346.10" r="1.9" fill="#000"/>
<circle cx="390.30" cy="350.40" r="1.9" fill="#000"/>
<circle cx="402.30" cy="343.20" r="1.9" fill="#000"/>
<circle cx="403.60" cy="347.40" r="1.9" fill="#000"/>
<circle cx="407.60" cy="351.20" r="1.9" fill="#000"/>
<circle cx="408.20" cy="355.80" r="1.9" fill="#000"/>
<circle cx="410.20" cy="358.40" r="1.9" fill="#000"/>
<circle cx="408.50" cy="358.00" r="1.9" fill="#000"/>
<circle cx="396.20" cy="359.50" r="1.9" fill="#000"/>
<circle cx="395.80" cy="364.30" r="1.9" fill="#000"/>
<circle cx="412.70" cy="371.20" r="1.9" fill="#000"/>
<circle cx="425.50" cy="358.80" r="1.9" fill="#000"/>
<circle cx="432.70" cy="369.20" r="1.9" fill="#000"/>
<circle cx="456.90" cy="368.60" r="1.9" fill="#000"/>
<circle cx="376.50" cy="408.20" r="1.9" fill="#6a6a6a"/>
<text x="382.00" y="410.40" font-size="6.2" font-weight="normal" font-style="normal" text-anchor="start" fill="#000" >CIMP-low</text>
<circle cx="376.50" cy="414.80" r="1.9" fill="#bdbdbd"/>
<text x="382.00" y="417.00" font-size="6.2" font-weight="normal" font-style="normal" text-anchor="start" fill="#000" >CIMP-int.</text>
<circle cx="376.50" cy="421.50" r="1.9" fill="#000"/>
<text x="382.00" y="423.70" font-size="6.2" font-weight="normal" font-style="normal" text-anchor="start" fill="#000" >CIMP-high</text>
</svg>
</body></html>
